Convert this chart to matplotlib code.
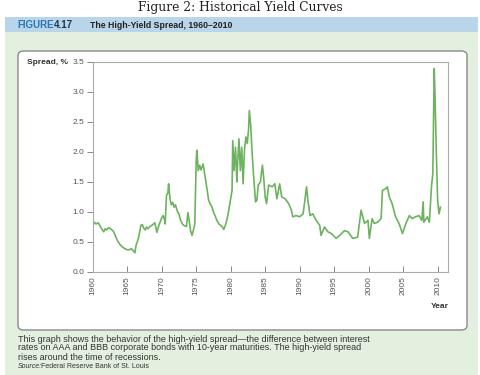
import matplotlib
matplotlib.use("Agg")
import matplotlib.pyplot as plt
from matplotlib.patches import Rectangle, FancyBboxPatch

# spread data (year, spread %)
years = [1960.0, 1960.2, 1960.5, 1960.8, 1961.0, 1961.3, 1961.6, 1961.8, 1962.0, 1962.3,
         1962.7, 1963.0, 1963.3, 1963.6, 1964.0, 1964.5, 1965.0, 1965.3, 1965.6, 1966.0,
         1966.1, 1966.3, 1966.6, 1967.0, 1967.2, 1967.4, 1967.6, 1967.8, 1968.0, 1968.3,
         1968.6, 1969.0, 1969.2, 1969.3, 1969.6, 1970.0, 1970.2, 1970.4, 1970.5, 1970.7,
         1970.9, 1971.0, 1971.2, 1971.4, 1971.6, 1971.8, 1972.0, 1972.3, 1972.5, 1972.7,
         1973.0, 1973.3, 1973.6, 1973.8, 1974.0, 1974.2, 1974.4, 1974.6, 1974.8, 1975.0,
         1975.1, 1975.3, 1975.5, 1975.7, 1976.0, 1976.3, 1976.6, 1976.8, 1977.0, 1977.3,
         1977.5, 1977.8, 1978.0, 1978.3, 1978.5, 1978.8, 1979.0, 1979.3, 1979.6, 1979.9,
         1980.1, 1980.2, 1980.3, 1980.5, 1980.7, 1980.9, 1981.0, 1981.2, 1981.4, 1981.6,
         1981.8, 1982.0, 1982.2, 1982.4, 1982.6, 1982.7, 1982.9, 1983.1, 1983.3, 1983.6,
         1983.8, 1984.0, 1984.3, 1984.6, 1984.8, 1985.0, 1985.2, 1985.5, 1986.0, 1986.4,
         1986.7, 1987.1, 1987.4, 1987.9, 1988.4, 1988.8, 1989.0, 1989.5, 1990.0, 1990.5,
         1991.0, 1991.2, 1991.5, 1991.9, 1992.4, 1992.9, 1993.1, 1993.6, 1994.1, 1994.6,
         1995.3, 1995.8, 1996.5, 1997.0, 1997.7, 1998.4, 1998.9, 1999.4, 1999.9, 2000.1,
         2000.5, 2000.8, 2001.3, 2001.8, 2002.0, 2002.5, 2002.7, 2003.0, 2003.4, 2003.9,
         2004.4, 2004.9, 2005.4, 2005.9, 2006.3, 2006.8, 2007.3, 2007.7, 2007.9, 2008.0,
         2008.5, 2008.8, 2009.1, 2009.3, 2009.5, 2009.6, 2009.8, 2010.0, 2010.2, 2010.4]
spread = [0.75, 0.83, 0.80, 0.82, 0.78, 0.72, 0.67, 0.72, 0.70, 0.74,
          0.71, 0.68, 0.60, 0.52, 0.45, 0.40, 0.37, 0.37, 0.39, 0.34,
          0.32, 0.45, 0.55, 0.78, 0.79, 0.73, 0.70, 0.75, 0.72, 0.76,
          0.78, 0.82, 0.72, 0.66, 0.78, 0.90, 0.94, 0.88, 0.80, 1.28,
          1.32, 1.47, 1.22, 1.12, 1.16, 1.08, 1.12, 1.00, 0.97, 0.88,
          0.80, 0.77, 0.76, 0.99, 0.85, 0.68, 0.61, 0.70, 0.80, 1.85,
          2.03, 1.69, 1.78, 1.70, 1.80, 1.58, 1.36, 1.20, 1.14, 1.08,
          1.00, 0.92, 0.86, 0.80, 0.78, 0.75, 0.71, 0.80, 0.95, 1.15,
          1.28, 1.36, 2.19, 1.69, 2.08, 1.50, 1.80, 2.22, 1.69, 2.08,
          1.47, 2.03, 2.25, 2.14, 2.39, 2.69, 2.45, 2.00, 1.64, 1.17,
          1.20, 1.45, 1.50, 1.78, 1.55, 1.25, 1.14, 1.45, 1.42, 1.47,
          1.22, 1.47, 1.25, 1.22, 1.14, 1.03, 0.92, 0.94, 0.92, 0.97,
          1.42, 1.19, 0.94, 0.97, 0.86, 0.78, 0.61, 0.75, 0.67, 0.64,
          0.56, 0.61, 0.69, 0.67, 0.56, 0.58, 1.03, 0.81, 0.86, 0.56,
          0.89, 0.81, 0.83, 0.89, 1.36, 1.39, 1.42, 1.25, 1.14, 0.92,
          0.81, 0.64, 0.81, 0.94, 0.89, 0.92, 0.94, 0.86, 1.17, 0.83,
          0.92, 0.83, 1.42, 1.64, 3.39, 3.03, 2.03, 1.19, 0.97, 1.08]

xticks = list(range(1960, 2011, 5))
yticks = [0.0, 0.5, 1.0, 1.5, 2.0, 2.5, 3.0, 3.5]

plt.rcParams['font.family'] = ['Liberation Sans', 'DejaVu Sans']

W, H = 480, 375
fig = plt.figure(figsize=(4.8, 3.75), dpi=100)
fig.patch.set_facecolor("white")


def fx(x):
    return x / W


def fy(y):
    return 1 - y / H


# background decorations
fig.patches.append(Rectangle((fx(5), 0), fx(473), (375 - 32) / H,
                             transform=fig.transFigure, facecolor="#e4f0df",
                             edgecolor="none", zorder=0))
fig.patches.append(Rectangle((fx(5), fy(32)), fx(473), 15 / H,
                             transform=fig.transFigure, facecolor="#b9d5ea",
                             edgecolor="none", zorder=0))
fig.patches.append(FancyBboxPatch((fx(18), fy(330)), fx(449), 279 / H,
                                  boxstyle="round,pad=0,rounding_size=0.012",
                                  transform=fig.transFigure, facecolor="white",
                                  edgecolor="#8a8a8a", linewidth=1.0, zorder=1))

fig.text(0.5, fy(8), "Figure 2: Historical Yield Curves", ha="center", va="center",
         family="DejaVu Serif", fontsize=8.8, color="#222222")
fig.text(fx(17), fy(25), "FIGURE", ha="left", va="center", fontsize=7,
         fontweight="bold", color="#2f74b5")
fig.text(fx(54), fy(25), "4.17", ha="left", va="center", fontsize=7,
         fontweight="bold", color="#1f3553")
fig.text(fx(90), fy(25), "The High-Yield Spread, 1960\u20132010", ha="left", va="center",
         fontsize=6.3, fontweight="bold", color="#222222")

ax = fig.add_axes([fx(92.7), fy(272), (448 - 92.7) / W, (272 - 62) / H])
ax.set_zorder(2)
ax.plot(years, spread, color="#6db35f", linewidth=1.2)
ax.set_xlim(1960, 2011.5)
ax.set_ylim(0, 3.5)
ax.set_xticks(xticks)
ax.set_xticklabels([str(t) for t in xticks], rotation=90)
ax.set_yticks(yticks)
ax.set_yticklabels(["%.1f" % t for t in yticks])
ax.tick_params(axis="x", direction="in", length=4, width=0.7, color="#888888",
               labelsize=6, labelcolor="#555555", pad=3)
ax.tick_params(axis="y", direction="out", length=4, width=0.7, color="#888888",
               labelsize=6, labelcolor="#555555", pad=2)
for s in ax.spines.values():
    s.set_color("#aaaaaa")
    s.set_linewidth(0.8)

fig.text(fx(68), fy(62), "Spread, %", ha="right", va="center", fontsize=6,
         fontweight="bold", color="#333333")
fig.text(fx(440), fy(306), "Year", ha="center", va="center", fontsize=6,
         fontweight="bold", color="#333333")

caption = ["This graph shows the behavior of the high-yield spread\u2014the difference between interest",
           "rates on AAA and BBB corporate bonds with 10-year maturities. The high-yield spread",
           "rises around the time of recessions."]
for i, line in enumerate(caption):
    fig.text(fx(18), fy(339 + 9 * i), line, ha="left", va="center", fontsize=6.5,
             color="#333333")
fig.text(fx(18), fy(367), "Source:", ha="left", va="center", fontsize=5,
         style="italic", color="#333333")
fig.text(fx(41), fy(367), "Federal Reserve Bank of St. Louis", ha="left", va="center",
         fontsize=5, color="#333333")

fig.savefig("out.png", dpi=100)
